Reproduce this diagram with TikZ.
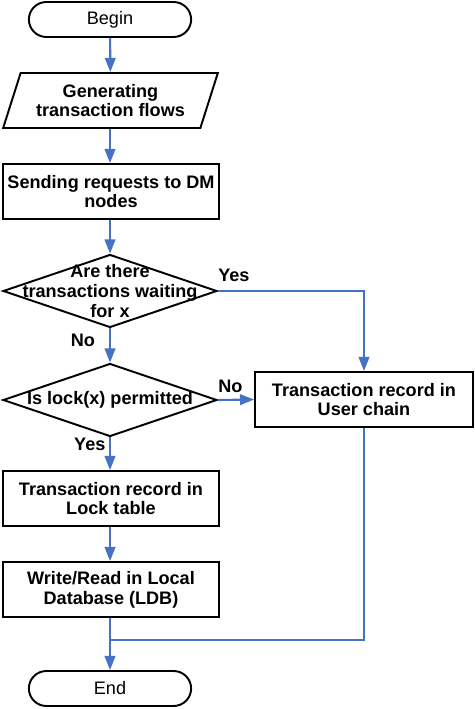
\documentclass[tikz,border=0pt]{standalone}
\usepackage{fontspec}
\setmainfont{Liberation Sans}
\usetikzlibrary{shapes.geometric,shapes.misc,arrows.meta}
\definecolor{flowblue}{RGB}{68,114,196}
\tikzset{
  txt/.style={font=\fontsize{10.3}{11.3}\selectfont\bfseries, align=center},
  box/.style={draw, line width=1.1pt, rectangle, minimum width=4.32cm, minimum height=1.1cm, inner sep=1pt, txt},
  term/.style={draw, line width=1.1pt, rounded rectangle, minimum width=3.48cm, minimum height=0.7cm, font=\fontsize{10.3}{12}\selectfont},
  io/.style={draw, line width=1.1pt, trapezium, trapezium left angle=68, trapezium right angle=112, trapezium stretches=true, minimum width=4.3cm, minimum height=1.1cm, inner sep=1pt, txt},
  decision/.style={draw, line width=1.1pt, diamond, inner sep=0pt, minimum width=4.28cm, minimum height=1.46cm},
  flow/.style={flowblue, line width=1.2pt, -{Triangle[length=8pt,width=6pt]}},
  link/.style={flowblue, line width=1.2pt},
  lbl/.style={font=\fontsize{10.3}{12}\selectfont\bfseries, text=black, inner sep=0pt}
}
\begin{document}
\begin{tikzpicture}[x=0.02cm,y=-0.02cm]
\useasboundingbox (0,0) rectangle (474,709);
% shapes
\node[term] (begin) at (110,19.5) {Begin};
\node[io] (gen) at (110.5,100.5) {Generating\\transaction flows};
\node[box] (send) at (111,191.5) {Sending requests to DM\\nodes};
\node[decision] (wait) at (110,291) {};
\node[txt] (waittext) at (wait) {Are there\\transactions waiting\\for x};
\node[decision] (lock) at (110,400) {};
\node[txt] (locktext) at (lock) {Is lock(x) permitted};
\node[box, minimum width=4.36cm] (user) at (364,399.5) {Transaction record in\\User chain};
\node[box] (locktab) at (111,498.5) {Transaction record in\\Lock table};
\node[box] (ldb) at (111,589.5) {Write/Read in Local\\Database (LDB)};
\node[term] (end) at (110,688.5) {End};
% arrows
\draw[flow] (begin) -- (gen);
\draw[flow] (gen.south -| begin.south) -- (send.north -| begin.south);
\draw[flow] (send.south -| wait.north) -- (wait.north);
\draw[flow] (wait.south) -- (lock.north) node[lbl, pos=0.35, left=8pt] (no1) {No};
\draw[flow] (wait.east) -| (user.north);
\node[lbl, anchor=south west] (yes1) at ([yshift=5pt]wait.east) {Yes};
\draw[flow] (lock.east) -- (user.west);
\node[lbl, anchor=south west] (no2) at ([yshift=4pt]lock.east) {No};
\draw[flow] (lock.south) -- (locktab.north -| lock.south) node[lbl, pos=0.2, left=2pt] (yes2) {Yes};
\draw[flow] (locktab.south -| lock.south) -- (ldb.north -| lock.south);
\coordinate (merge) at (110,640);
\draw[link] (user.south) |- (merge);
\draw[flow] (ldb.south -| end.north) -- (end.north);
\end{tikzpicture}
\end{document}
